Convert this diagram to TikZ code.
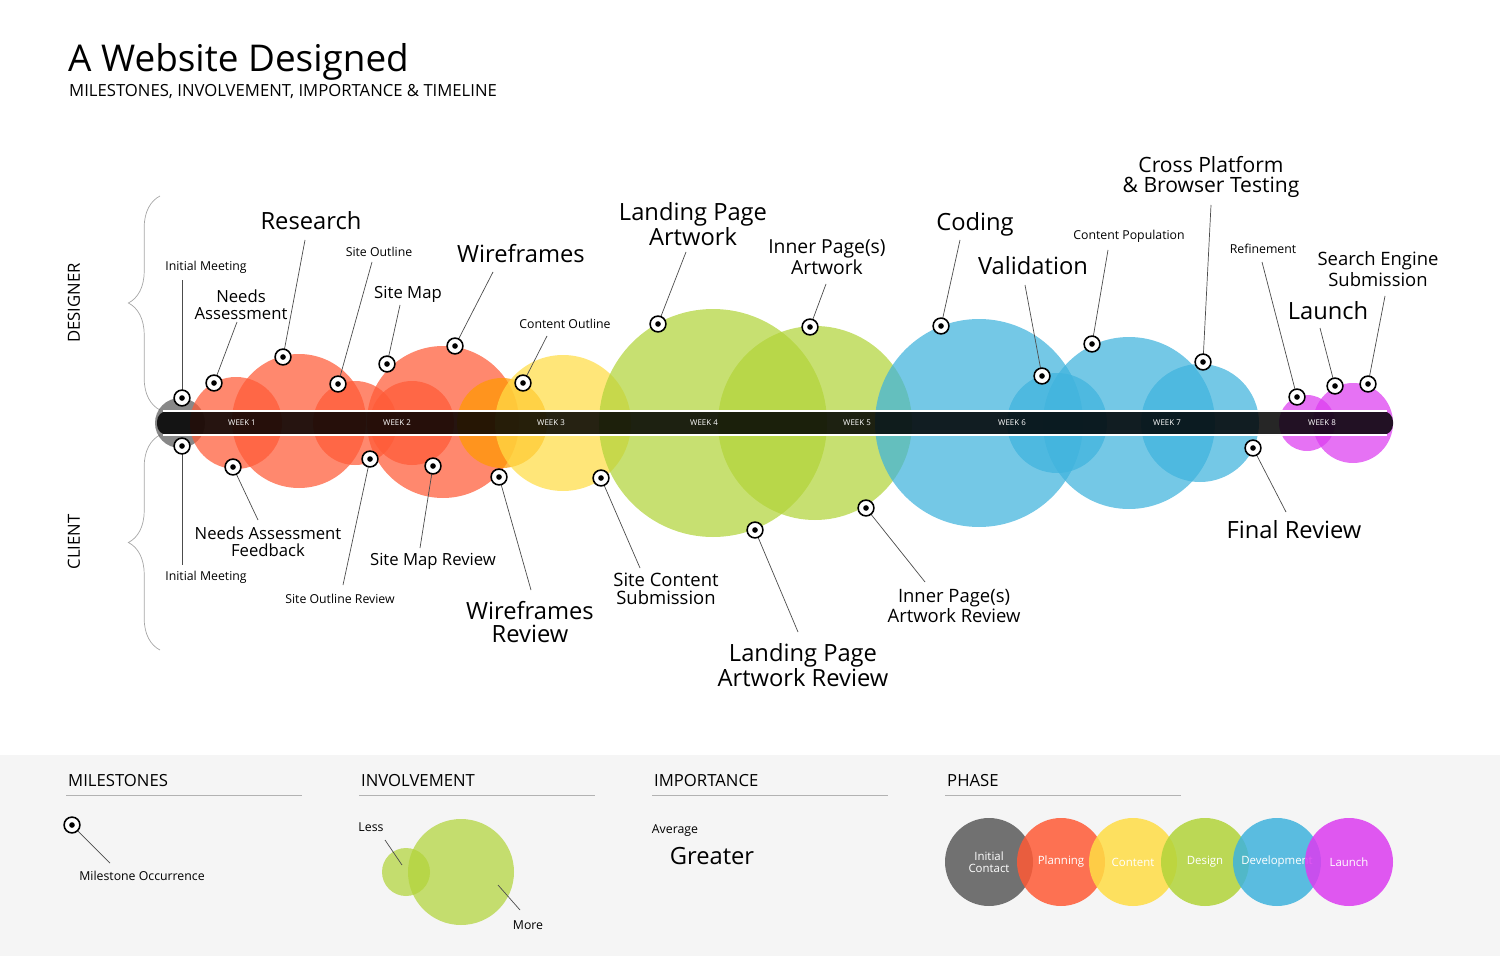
\documentclass[tikz,border=0pt]{standalone}
\usepackage{fontspec}
\setmainfont{Open Sans}
\usetikzlibrary{positioning,decorations.pathreplacing}
\definecolor{cgray}{HTML}{5A5A5A}
\definecolor{corange}{HTML}{FF5A36}
\definecolor{cyellow}{HTML}{FFDD45}
\definecolor{cgreen}{HTML}{B2D43A}
\definecolor{cblue}{HTML}{3FB3DD}
\definecolor{cpurple}{HTML}{DC3CF0}
\definecolor{cpanel}{HTML}{F5F5F5}
\tikzset{
  dot/.style={circle,draw=black,fill=white,line width=0.9pt,inner sep=0pt,minimum size=9pt,
    path picture={\fill[black] (path picture bounding box.center) circle (1.6pt);}},
  lead/.style={draw=black!70,line width=0.4pt},
  blob/.style={fill opacity=0.72,draw=none},
  side/.style={black!35,decorate,decoration={brace,amplitude=18pt}},
  big/.style={font=\fontsize{13.5}{13}\selectfont,align=center},
  mid/.style={font=\fontsize{9.5}{9.5}\selectfont,align=center},
  small/.style={font=\fontsize{7}{7}\selectfont,align=center},
  head/.style={font=\fontsize{9.5}{10}\selectfont,anchor=west},
  week/.style={font=\fontsize{4.5}{5}\selectfont,text=white},
  phase/.style={circle,minimum size=1.76cm,fill opacity=0.85,text opacity=1,text=white,
    font=\fontsize{6.5}{7}\selectfont,align=center,inner sep=0pt}
}
\begin{document}
\begin{tikzpicture}[x=0.02cm,y=-0.02cm]
   \useasboundingbox (0,0) rectangle (1500,956);
   \fill[cpanel] (0,755) rectangle (1500,956);
   % title
   \node[anchor=west,font=\fontsize{21}{21}\selectfont] (title) at (62,62) {A Website Designed};
   \node[anchor=west,font=\fontsize{9.5}{10}\selectfont] (sub) at (63,92) {MILESTONES, INVOLVEMENT, IMPORTANCE \& TIMELINE};
   % sides
   \draw[side] (160,410) -- (160,196);
   \draw[side] (160,650) -- (160,435);
   \node[rotate=90,font=\fontsize{9.5}{10}\selectfont] (designer) at (74,303) {DESIGNER};
   \node[rotate=90,font=\fontsize{9.5}{10}\selectfont] (client) at (74,542) {CLIENT};
   % circles
   \begin{scope}[blob]
    \fill[cgray] (180,423) circle (25);
    \fill[corange] (236,423) circle (46);
    \fill[corange] (299,421) circle (67);
    \fill[corange] (355,423) circle (42);
    \fill[corange] (412,423) circle (42);
    \fill[corange] (443,422) circle (76);
    \fill[orange!80!yellow] (502,423) circle (45);
    \fill[cyellow] (563,423) circle (68);
    \fill[cgreen] (713,423) circle (114);
    \fill[cgreen] (815,423) circle (97);
    \fill[cblue] (979,423) circle (104);
    \fill[cblue] (1057,423) circle (50);
    \fill[cblue] (1129,423) circle (86);
    \fill[cblue] (1200,423) circle (59);
    \fill[cpurple] (1307,423) circle (28);
    \fill[cpurple] (1353,423) circle (40);
   \end{scope}
   % timeline bar
   \fill[black,opacity=0.85,rounded corners=6] (157,411) rectangle (1393,435);
   \draw[white,line width=1pt] (163,411) -- (1387,411) (163,435) -- (1387,435);
   \foreach \w/\x in {1/242,2/397,3/551,4/704,5/857,6/1012,7/1167,8/1322}
     \node[week] (w\w) at (\x,423) {WEEK \w};
   % milestones
   \foreach \n/\dx/\dy/\lx/\ly in {a/182/398/182/280, b/214/383/237/322, c/283/357/305/240,
       d/338/384/372/262, e/387/364/400/305, f/455/346/493/272, g/523/383/547/336,
       h/658/324/686/252, i/810/327/826/284, j/941/326/960/240, k/1042/376/1025/285,
       l/1092/344/1108/250, m/1203/362/1211/205, n/1297/397/1262/262, o/1335/386/1320/328,
       p/1368/384/1385/296,
       q/182/446/182/565, r/233/467/258/520, s/370/459/343/585, t/433/466/420/548,
       u/499/477/531/590, v/601/478/640/568, x/755/530/798/632, y/866/508/925/582,
       z/1253/448/1286/512} {
     \coordinate (e\n) at (\lx,\ly);
     \draw[lead] (\dx,\dy) -- (e\n);
     \node[dot] (m\n) at (\dx,\dy) {};
   }
   % designer labels
   \node[small] (la) at (206,267) {Initial Meeting};
   \node[mid] (lb) at (241,305) {Needs\\Assessment};
   \node[big] (lc) at (311,221) {Research};
   \node[small] (ld) at (379,252) {Site Outline};
   \node[mid] (le) at (408,294) {Site Map};
   \node[big] (lf) at (521,254) {Wireframes};
   \node[small] (lg) at (565,324) {Content Outline};
   \node[big] (lh) at (693,224) {Landing Page\\Artwork};
   \node[font=\fontsize{11}{10}\selectfont,align=center] (li) at (827,257) {Inner Page(s)\\Artwork};
   \node[big] (lj) at (975,224) {Coding};
   \node[big] (lk) at (1033,266) {Validation};
   \node[small] (ll) at (1129,236) {Content Population};
   \node[font=\fontsize{12}{11}\selectfont,align=center] (lm) at (1211,177) {Cross Platform\\\& Browser Testing};
   \node[small] (ln) at (1263,249) {Refinement};
   \node[big] (lo) at (1328,311) {Launch};
   \node[font=\fontsize{10.5}{10}\selectfont,align=center] (lp) at (1378,269) {Search Engine\\Submission};
   % client labels
   \node[small] (lq) at (206,577) {Initial Meeting};
   \node[mid] (lr) at (268,542) {Needs Assessment\\Feedback};
   \node[small] (ls) at (340,599) {Site Outline Review};
   \node[mid] (lt) at (433,561) {Site Map Review};
   \node[big] (lu) at (530,622) {Wireframes\\Review};
   \node[font=\fontsize{10.5}{10}\selectfont,align=center] (lv) at (666,589) {Site Content\\Submission};
   \node[big] (lx) at (803,665) {Landing Page\\Artwork Review};
   \node[font=\fontsize{10.5}{10}\selectfont,align=center] (ly) at (954,606) {Inner Page(s)\\Artwork Review};
   \node[big] (lz) at (1294,530) {Final Review};
   % legend
   \foreach \t/\x in {MILESTONES/66,INVOLVEMENT/359,IMPORTANCE/652,PHASE/945} {
     \node[head] (h\t) at (\x-4,781) {\t};
     \draw[black!30] (\x,795) -- (\x+236,795);
   }
   \node[dot] (key) at (72,825) {};
   \coordinate (keyend) at (110,863);
   \draw[lead] (key) -- (keyend);
   \node[small] (keylab) at (142,876) {Milestone Occurrence};
   \fill[cgreen,blob] (406,872) circle (24);
   \fill[cgreen,blob] (461,872) circle (53);
   \node[small] (less) at (371,827) {Less};
   \node[small] (more) at (528,925) {More};
   \coordinate (lessA) at (385,840); \coordinate (lessB) at (402,865);
   \coordinate (moreA) at (498,885); \coordinate (moreB) at (520,910);
   \draw[lead] (lessA) -- (lessB);
   \draw[lead] (moreA) -- (moreB);
   \node[small] (avg) at (675,831) {Average};
   \node[big] (greater) at (712,856) {Greater};
   \begin{scope}[every node/.style={phase}]
    \node[fill=cgray] (p1) at (989,862) {Initial\\Contact};
    \node[fill=corange] (p2) at (1061,862) {Planning};
    \node[fill=cyellow] (p3) at (1133,862) {Content};
    \node[fill=cgreen] (p4) at (1205,862) {Design};
    \node[fill=cblue] (p5) at (1277,862) {Development};
    \node[fill=cpurple] (p6) at (1349,862) {Launch};
   \end{scope}
\end{tikzpicture}
\end{document}
